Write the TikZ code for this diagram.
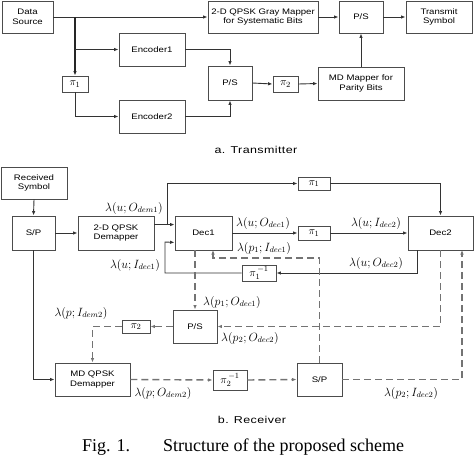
\documentclass[tikz,border=0pt]{standalone}
\usepackage{fontspec}
\setmainfont{Liberation Serif}
\newfontfamily\arialf[FakeStretch=1.2]{Liberation Sans}
\newfontfamily\arialsp[FakeStretch=1.25,LetterSpace=4]{Liberation Sans}
\usetikzlibrary{arrows.meta,calc}
\begin{document}
\begin{tikzpicture}[x=1pt,y=-1pt,
  box/.style={draw=black!70, line width=0.9pt, fill=white, inner sep=0pt, align=center,
    font=\arialf\fontsize{8}{9.5}\selectfont},
  pbox/.style={draw=black!70, line width=0.9pt, fill=white, inner sep=0pt, font=\fontsize{11}{12}\selectfont},
  sz/.style 2 args={minimum width=#1pt, minimum height=#2pt},
  con/.style={draw=black!80, line width=0.9pt, -{Latex[length=4.5pt,width=3.5pt]}},
  tcon/.style={draw=black!85, line width=1.5pt, -{Latex[length=4.5pt,width=3.5pt]}},
  dcon/.style={draw=black!55, line width=1.4pt, dash pattern=on 7pt off 4pt, -{Latex[length=4.5pt,width=3.5pt]}},
  lab/.style={font=\fontsize{11.5}{12}\selectfont, inner sep=0pt},
  ttl/.style={font=\arialsp\fontsize{10}{12}\selectfont, inner sep=0pt},
  captxt/.style={font=\fontsize{18}{20}\selectfont, inner sep=0pt}]
\useasboundingbox (0,0) rectangle (474,455);

% ---------------- Transmitter ----------------
\node[box, sz={51}{32}] (ds) at (27.5,17) {Data\\Source};
\node[box, sz={110}{32}] (qpsk) at (263,17) {2-D QPSK Gray Mapper\\for Systematic Bits};
\node[box, sz={44}{32}] (ps1) at (361,17) {P/S};
\node[box, sz={66}{32}] (ts) at (439,17) {Transmit\\Symbol};
\node[box, sz={66}{33}] (enc1) at (152,49.5) {Encoder1};
\node[pbox, sz={26}{16}] (pi1) at (75,84) {$\pi_1$};
\node[box, sz={66}{33}] (enc2) at (152,116.5) {Encoder2};
\node[box, sz={44}{34}] (ps2) at (230,83) {P/S};
\node[pbox, sz={25}{16}] (pi2) at (285.5,84) {$\pi_2$};
\node[box, sz={86}{33}] (mdm) at (361,83.5) {MD Mapper for\\Parity Bits};

\draw[con] (ds.east) -- (qpsk.west);
\draw[tcon] (ds.east -| pi1.north) -- (pi1.north);
\draw[con] (pi1.north |- enc1.west) -- (enc1.west);
\draw[con] (pi1.south) |- (enc2.west);
\draw[con] (enc1.east) -| (ps2.north);
\draw[con] (enc2.east) -| (ps2.south);
\draw[con] (ps2.east) -- (pi2.west);
\draw[con] (pi2.east) -- (mdm.west);
\draw[con] (mdm.north) -- (ps1.south);
\draw[con] (qpsk.east) -- (ps1.west);
\draw[con] (ps1.east) -- (ts.west);

\node[ttl] (ta) at (256,150) {a. Transmitter};

% ---------------- Receiver ----------------
\node[box, sz={66}{32}] (rs) at (34,183) {Received\\Symbol};
\node[box, sz={43}{34}] (sp1) at (33.5,233) {S/P};
\node[box, sz={76}{34}] (dem1) at (116,233) {2-D QPSK\\Demapper};
\node[box, sz={57}{34}] (dec1) at (203.5,233) {Dec1};
\node[pbox, sz={32}{13}] (pia) at (314,183.5) {$\pi_1$};
\node[pbox, sz={32}{14}] (pib) at (314,233) {$\pi_1$};
\node[box, sz={65}{34}] (dec2) at (440.5,233) {Dec2};
\node[pbox, sz={34}{16}] (piinv1) at (259,273) {$\pi_1^{\,-1}$};
\node[box, sz={44}{33}] (ps3) at (195,326.5) {P/S};
\node[pbox, sz={28}{13}] (pi2r) at (136,326.5) {$\pi_2$};
\node[box, sz={75}{33}] (mdd) at (92.5,379.5) {MD QPSK\\Demapper};
\node[pbox, sz={34}{20}] (pi2inv) at (230,380) {$\pi_2^{\,-1}$};
\node[box, sz={45}{33}] (sp2) at (319.5,379.5) {S/P};

\coordinate (d1o) at ($(dem1.north east)+(0,9)$);
\coordinate (j1) at (167,225);
\coordinate (d1in2) at ($(dec1.south west)+(0,-8)$);
\coordinate (d2o) at ($(dec2.south west)+(10,0)$);
\coordinate (d1b) at (213,250);
\coordinate (d2b) at (462,250);

\draw[con] (rs.south) -- (sp1.north);
\draw[con] (sp1.east) -- (dem1.west);
\draw[con] (d1o) -- (d1o -| dec1.west);
\draw[con] (j1) |- (pia.west);
\draw[con] (pia.east) -| (dec2.north);
\draw[con] (dec1.east) -- (pib.west);
\draw[con] (pib.east) -- (dec2.west);
\draw[con] (d2o) |- (piinv1.east);
\draw[con] (piinv1.west) -| (165,242) -- (d1in2);
\draw[con] (sp1.south) |- (mdd.west);

\draw[dcon] (dec1.south -| ps3.north) -- (ps3.north);
\draw[dcon] (dec2.south) |- (ps3.east);
\draw[dcon] (ps3.west) -- (pi2r.east);
\draw[dcon] (pi2r.west) -| (mdd.north);
\draw[dcon] (mdd.east) -- (pi2inv.west);
\draw[dcon] (pi2inv.east) -- (sp2.west);
\draw[dcon] (sp2.north) |- (213,258) -- (d1b);
\draw[dcon] (sp2.east) -| (d2b);

\node[lab] (l1) at (134,208) {$\lambda(u;O_{dem1})$};
\node[lab] (l2) at (135,265) {$\lambda(u;I_{dec1})$};
\node[lab] (l3) at (263,223) {$\lambda(u;O_{dec1})$};
\node[lab] (l4) at (264,248) {$\lambda(p_1;I_{dec1})$};
\node[lab] (l5) at (376,223) {$\lambda(u;I_{dec2})$};
\node[lab] (l6) at (376,263) {$\lambda(u;O_{dec2})$};
\node[lab] (l7) at (232,302) {$\lambda(p_1;O_{dec1})$};
\node[lab] (l8) at (250,338) {$\lambda(p_2;O_{dec2})$};
\node[lab] (l9) at (81,313) {$\lambda(p;I_{dem2})$};
\node[lab] (l10) at (163,393) {$\lambda(p;O_{dem2})$};
\node[lab] (l11) at (411,393) {$\lambda(p_2;I_{dec2})$};

\node[ttl] (tb) at (252,420) {b. Receiver};
\node[captxt, anchor=west] (c1) at (82,447) {Fig. 1.};
\node[captxt, anchor=west] (c2) at (163,447) {Structure of the proposed scheme};
\end{tikzpicture}
\end{document}
